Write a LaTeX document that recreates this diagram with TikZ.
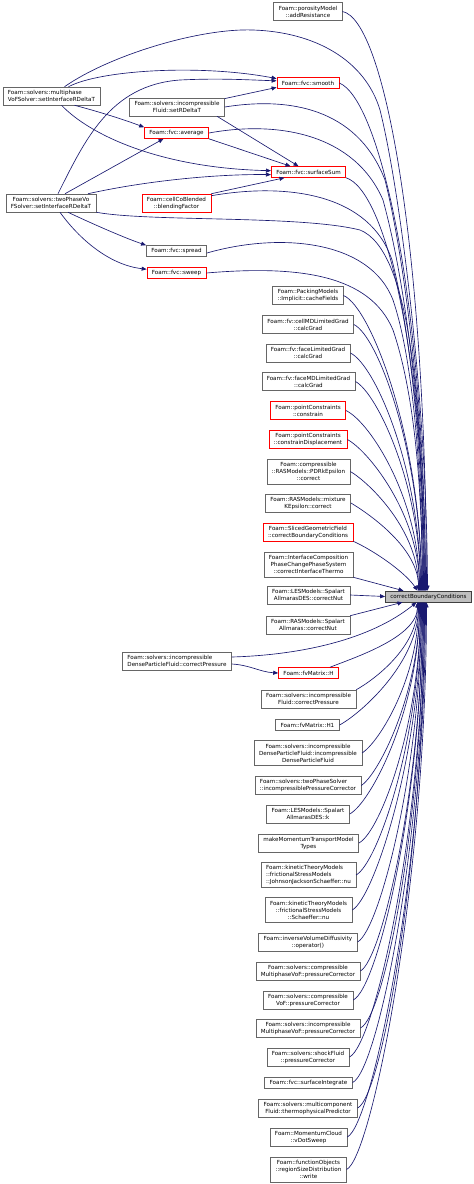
\documentclass[tikz,border=0pt]{standalone}
\usepackage{fontspec}
\newfontfamily\dv{DejaVu Sans}
\usetikzlibrary{arrows.meta}
\definecolor{edgeblue}{HTML}{191970}
\definecolor{ndgray}{HTML}{666666}
\definecolor{ndred}{HTML}{FF0000}
\definecolor{tgfill}{HTML}{BFBFBF}
\definecolor{tgdraw}{HTML}{404040}
\tikzset{
  nd/.style={draw=ndgray, line width=0.55bp, inner xsep=5bp, inner ysep=0.5bp,
    font=\dv\fontsize{5.6bp}{7bp}\selectfont, align=center, fill=white},
  rd/.style={nd, draw=ndred},
  tg/.style={nd, draw=tgdraw, fill=tgfill},
  one/.style={minimum height=11bp},
  two/.style={minimum height=18bp},
  three/.style={minimum height=25bp},
  e/.style={draw=edgeblue, line width=0.65bp, -{Triangle[length=5bp,width=4bp]}},
}
\begin{document}
\begin{tikzpicture}[x=1bp,y=-1bp]
\useasboundingbox (0,0) rectangle (474,1184);
% left / upper part
\node[nd,two] (por) at (308,11.5) {Foam::porosityModel\\::addResistance};
\node[nd,two,align=left] (mp) at (51.5,96) {Foam::solvers::multiphase\\VoFSolver::setInterfaceRDeltaT};
\node[rd,one] (sm) at (308,83) {Foam::fvc::smooth};
\node[nd,two] (sr) at (177,107) {Foam::solvers::incompressible\\Fluid::setRDeltaT};
\node[rd,one] (av) at (176.5,133) {Foam::fvc::average};
\node[rd,one] (ss) at (308.5,172) {Foam::fvc::surfaceSum};
\node[nd,two] (tp) at (51,203) {Foam::solvers::twoPhaseVo\\FSolver::setInterfaceRDeltaT};
\node[rd,two] (cb) at (176.5,203) {Foam::cellCoBlended\\::blendingFactor};
\node[nd,one] (sp) at (176.5,251) {Foam::fvc::spread};
\node[rd,one] (sw) at (176.5,273) {Foam::fvc::sweep};
% right column above
\node[nd,two] (pk) at (308,295.5) {Foam::PackingModels\\::Implicit::cacheFields};
\node[nd,two] (cm) at (308,324.5) {Foam::fv::cellMDLimitedGrad\\::calcGrad};
\node[nd,two] (fl) at (308,353) {Foam::fv::faceLimitedGrad\\::calcGrad};
\node[nd,two] (fm) at (308.5,381.5) {Foam::fv::faceMDLimitedGrad\\::calcGrad};
\node[rd,two] (pc) at (308,410.5) {Foam::pointConstraints\\::constrain};
\node[rd,two] (pd) at (308,439.5) {Foam::pointConstraints\\::constrainDisplacement};
\node[nd,three] (pdr) at (308.5,471.5) {Foam::compressible\\::RASModels::PDRkEpsilon\\::correct};
\node[nd,two] (mk) at (308,503) {Foam::RASModels::mixture\\KEpsilon::correct};
\node[rd,two] (sl) at (308,532) {Foam::SlicedGeometricField\\::correctBoundaryConditions};
\node[nd,three] (ic) at (308.5,564.5) {Foam::InterfaceComposition\\PhaseChangePhaseSystem\\::correctInterfaceThermo};
\node[nd,two] (lc) at (308.5,595) {Foam::LESModels::Spalart\\AllmarasDES::correctNut};
% target
\node[tg,one] (t) at (428.5,596.5) {correctBoundaryConditions};
% right column below
\node[nd,two] (rc) at (308,625) {Foam::RASModels::Spalart\\Allmaras::correctNut};
\node[nd,two,align=left] (dc) at (177,661) {Foam::solvers::incompressible\\DenseParticleFluid::correctPressure};
\node[rd,one] (H) at (308.5,673) {Foam::fvMatrix::H};
\node[nd,two] (ifc) at (308.5,699) {Foam::solvers::incompressible\\Fluid::correctPressure};
\node[nd,one] (H1) at (307.5,725) {Foam::fvMatrix::H1};
\node[nd,three] (idp) at (308,753) {Foam::solvers::incompressible\\DenseParticleFluid::incompressible\\DenseParticleFluid};
\node[nd,two,align=left] (tps) at (308,785.5) {Foam::solvers::twoPhaseSolver\\::incompressiblePressureCorrector};
\node[nd,two] (lk) at (308,814) {Foam::LESModels::Spalart\\AllmarasDES::k};
\node[nd,two] (mm) at (308.5,843) {makeMomentumTransportModel\\Types};
\node[nd,three,align=left] (jj) at (308.5,875) {Foam::kineticTheoryModels\\::frictionalStressModels\\::JohnsonJacksonSchaeffer::nu};
\node[nd,three] (sf) at (308.5,910) {Foam::kineticTheoryModels\\::frictionalStressModels\\::Schaeffer::nu};
\node[nd,two] (iv) at (308,942) {Foam::inverseVolumeDiffusivity\\::operator()};
\node[nd,two] (cmv) at (308,971) {Foam::solvers::compressible\\MultiphaseVoF::pressureCorrector};
\node[nd,two] (cv) at (308,1000) {Foam::solvers::compressible\\VoF::pressureCorrector};
\node[nd,two] (imv) at (308,1028) {Foam::solvers::incompressible\\MultiphaseVoF::pressureCorrector};
\node[nd,two] (sh) at (308,1057) {Foam::solvers::shockFluid\\::pressureCorrector};
\node[nd,one] (si) at (308.5,1082.5) {Foam::fvc::surfaceIntegrate};
\node[nd,two] (mc) at (308,1108) {Foam::solvers::multicomponent\\Fluid::thermophysicalPredictor};
\node[nd,two] (mo) at (308.5,1137) {Foam::MomentumCloud\\::vDotSweep};
\node[nd,three] (rs) at (308.5,1169.5) {Foam::functionObjects\\::regionSizeDistribution\\::write};

% ---- edges: upper-left group
\draw[e] (por.east) .. controls (385,20) and (426,250) .. ([xshift=-2bp]t.north);
\draw[e] ([xshift=13bp]mp.north) .. controls (110,55) and (200,28) .. (253,30)
   .. controls (315,32) and (365,60) .. (380,110) .. controls (400,190) and (427,400) .. ([xshift=-1bp]t.north);
\draw[e] ([xshift=17bp]mp.north) .. controls (100,70) and (200,64) .. (sm.172);
\draw[e] ([xshift=23bp]mp.south) .. controls (100,112) and (125,120) .. (av.north west);
\draw[e] ([xshift=10bp]mp.south) .. controls (90,135) and (160,168) .. (ss.178);
\draw[e] (sr.10) -- (sm.188);
\draw[e] ([xshift=40bp]sr.south) -- ([xshift=-10bp]ss.north);
\draw[e] (sr.east) .. controls (300,95) and (360,115) .. (385,180) .. controls (405,260) and (425,420) .. ([xshift=-3bp]t.north);
\draw[e] (av.south east) -- ([xshift=-18bp]ss.north);
\draw[e] (av.east) .. controls (280,120) and (355,135) .. (383,200) .. controls (405,280) and (424,420) .. ([xshift=-4bp]t.north);
\draw[e] (sm.east) .. controls (380,100) and (425,300) .. ([xshift=-3bp]t.north);
\draw[e] (ss.south east) .. controls (385,190) and (424,350) .. ([xshift=-4bp]t.north);
\draw[e] (cb.north east) -- ([xshift=-24bp]ss.south);
\draw[e] ([yshift=-2bp]cb.north east) .. controls (290,182) and (370,195) .. (392,260) .. controls (410,330) and (423,450) .. ([xshift=-5bp]t.north);
\draw[e] ([xshift=7bp]tp.north) .. controls (85,140) and (110,85) .. (180,80) .. controls (220,78) and (250,80) .. (sm.176);
\draw[e] ([xshift=14bp]tp.north) -- ([xshift=-13bp]av.south);
\draw[e] ([xshift=37bp]tp.north) .. controls (150,180) and (220,174) .. (ss.184);
\draw[e] (tp.south east) .. controls (150,222) and (300,215) .. (360,230) .. controls (410,250) and (423,400) .. ([xshift=-5bp]t.north);
\draw[e] ([xshift=17bp]tp.south) .. controls (95,225) and (125,238) .. (sp.north west);
\draw[e] ([xshift=9bp]tp.south) .. controls (80,240) and (110,265) .. ([yshift=-2bp]sw.north west);
\draw[e] ([yshift=-2bp]sp.east) .. controls (280,232) and (370,240) .. (393,300) .. controls (410,350) and (422,450) .. ([xshift=-6bp]t.north);
\draw[e] (sw.east) .. controls (300,265) and (370,275) .. (393,330) .. controls (410,380) and (422,460) .. ([xshift=-6bp]t.north);
% ---- right column above
\draw[e] (pk.east) .. controls +(28,12) and +(0,-150) .. ([xshift=-7bp]t.north);
\draw[e] (cm.east) .. controls +(25,12) and +(0,-135) .. ([xshift=-7bp]t.north);
\draw[e] (fl.east) .. controls +(25,12) and +(0,-120) .. ([xshift=-8bp]t.north);
\draw[e] (fm.east) .. controls +(22,12) and +(0,-105) .. ([xshift=-8bp]t.north);
\draw[e] (pc.east) .. controls +(25,12) and +(0,-90) .. ([xshift=-9bp]t.north);
\draw[e] (pd.east) .. controls +(22,12) and +(0,-75) .. ([xshift=-9bp]t.north);
\draw[e] (pdr.east) .. controls +(20,12) and +(0,-60) .. ([xshift=-10bp]t.north);
\draw[e] (mk.east) .. controls +(20,12) and +(0,-42) .. ([xshift=-10bp]t.north);
\draw[e] (sl.south east) .. controls +(22,10) and +(-12,-18) .. ([xshift=-11bp]t.north);
\draw[e] (ic.south east) -- ([xshift=-25bp]t.north);
\draw[e] (lc.east) -- (t.west);
% ---- below
\draw[e] (rc.north east) -- ([xshift=-26bp]t.south);
\draw[e] ([yshift=4bp]dc.east) .. controls (300,655) and (370,640) .. ([xshift=-12bp]t.south);
\draw[e] ([yshift=-3bp]dc.east) .. controls (250,665) and (260,672) .. (H.west);
\draw[e] (H.15) .. controls +(25,-10) and +(0,35) .. ([xshift=-11bp]t.south);
\draw[e] (ifc.north east) .. controls +(18,-10) and +(0,45) .. ([xshift=-11bp]t.south);
\draw[e] (H1.east) .. controls +(22,-12) and +(0,60) .. ([xshift=-10bp]t.south);
\draw[e] (idp.east) .. controls +(18,-12) and +(0,75) .. ([xshift=-10bp]t.south);
\draw[e] (tps.east) .. controls +(18,-12) and +(0,90) .. ([xshift=-9bp]t.south);
\draw[e] (lk.east) .. controls +(22,-12) and +(0,105) .. ([xshift=-9bp]t.south);
\draw[e] (mm.east) .. controls +(22,-12) and +(0,120) .. ([xshift=-8bp]t.south);
\draw[e] (jj.east) .. controls +(22,-12) and +(0,135) .. ([xshift=-8bp]t.south);
\draw[e] (sf.east) .. controls +(22,-12) and +(0,150) .. ([xshift=-7bp]t.south);
\draw[e] (iv.east) .. controls +(22,-12) and +(0,165) .. ([xshift=-7bp]t.south);
\draw[e] (cmv.east) .. controls +(22,-12) and +(0,180) .. ([xshift=-6bp]t.south);
\draw[e] (cv.east) .. controls +(25,-12) and +(0,195) .. ([xshift=-6bp]t.south);
\draw[e] (imv.east) .. controls +(25,-12) and +(0,210) .. ([xshift=-5bp]t.south);
\draw[e] (sh.east) .. controls +(25,-12) and +(0,225) .. ([xshift=-5bp]t.south);
\draw[e] (si.east) .. controls +(25,-12) and +(0,240) .. ([xshift=-4bp]t.south);
\draw[e] (mc.east) .. controls +(25,-12) and +(0,250) .. ([xshift=-4bp]t.south);
\draw[e] (mo.east) .. controls +(25,-12) and +(0,265) .. ([xshift=-3bp]t.south);
\draw[e] (rs.east) .. controls +(25,-12) and +(0,280) .. ([xshift=-2bp]t.south);
\end{tikzpicture}
\end{document}
